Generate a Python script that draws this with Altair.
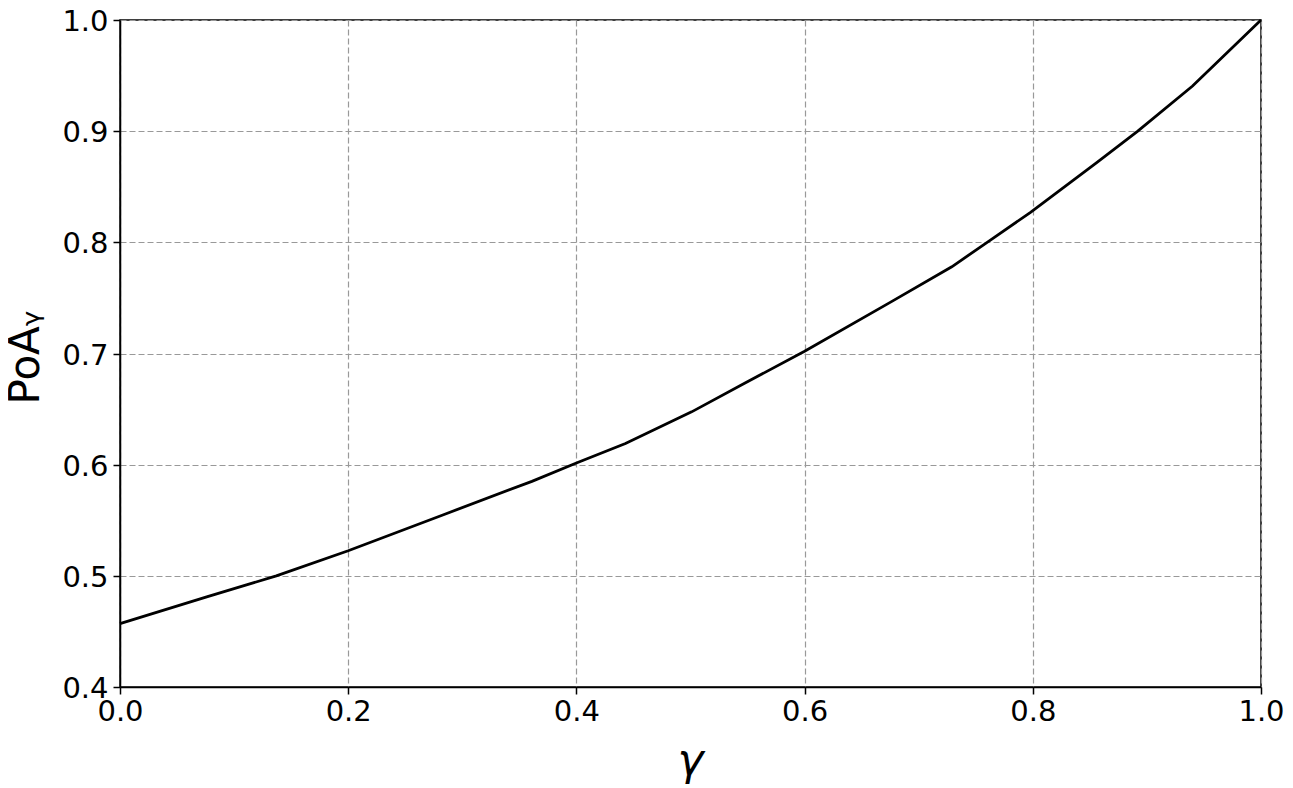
import altair as alt
import pandas as pd

gamma = [0.0, 0.076, 0.137, 0.2, 0.2835, 0.361, 0.4, 0.443, 0.501, 0.547,
         0.6, 0.675, 0.729, 0.76, 0.798, 0.856, 0.892, 0.940, 1.0]
poa = [0.457, 0.481, 0.5, 0.5226, 0.555, 0.585, 0.6015, 0.619, 0.6475, 0.673,
       0.702, 0.746, 0.778, 0.8, 0.827, 0.8716, 0.9, 0.9406, 1.0]
x_ticks = [0.0, 0.2, 0.4, 0.6, 0.8, 1.0]
y_ticks = [0.4, 0.5, 0.6, 0.7, 0.8, 0.9, 1.0]

df = pd.DataFrame({"gamma": gamma, "poa": poa})

FONT = "DejaVu Sans"

chart = alt.Chart(df).mark_line(color="black", strokeWidth=2.8).encode(
    x=alt.X("gamma:Q",
            scale=alt.Scale(domain=[0, 1], nice=False, zero=False),
            axis=alt.Axis(values=x_ticks, format=".1f", title="γ",
                          titleFontStyle="italic", titleFontSize=44,
                          titleFontWeight="normal",
                          titleX=570, titleY=87, titleBaseline="alphabetic",
                          titleAlign="center",
                          labelFontSize=29, labelPadding=3, tickSize=7,
                          labelFlush=False, labelOverlap=False,
                          gridDash=[6, 3], gridColor="#999999", gridWidth=1.2)),
    y=alt.Y("poa:Q",
            scale=alt.Scale(domain=[0.4, 1.0], nice=False, zero=False),
            axis=alt.Axis(values=y_ticks, format=".1f", title="PoAᵧ",
                          titleFontSize=42, titleFontWeight="normal",
                          titleAngle=270, titleX=-82, titleY=337,
                          titleBaseline="alphabetic", titleAlign="center",
                          labelFontSize=29, labelPadding=5, tickSize=7,
                          labelOffset=1.5,
                          labelFlush=False, labelOverlap=False,
                          gridDash=[6, 3], gridColor="#999999", gridWidth=1.2)),
).properties(
    width=1141, height=667,
    autosize=alt.AutoSizeParams(type="none"),
    padding={"left": 112, "top": 12, "right": 24, "bottom": 100},
).configure_axis(
    labelFont=FONT, titleFont=FONT, labelColor="black", titleColor="black",
    domainColor="black", domainWidth=1.5, tickColor="black", tickWidth=1.5,
).configure_view(
    stroke="black", strokeWidth=1.5,
)

chart.save("out.html", embed_options={"renderer": "svg", "actions": False})
